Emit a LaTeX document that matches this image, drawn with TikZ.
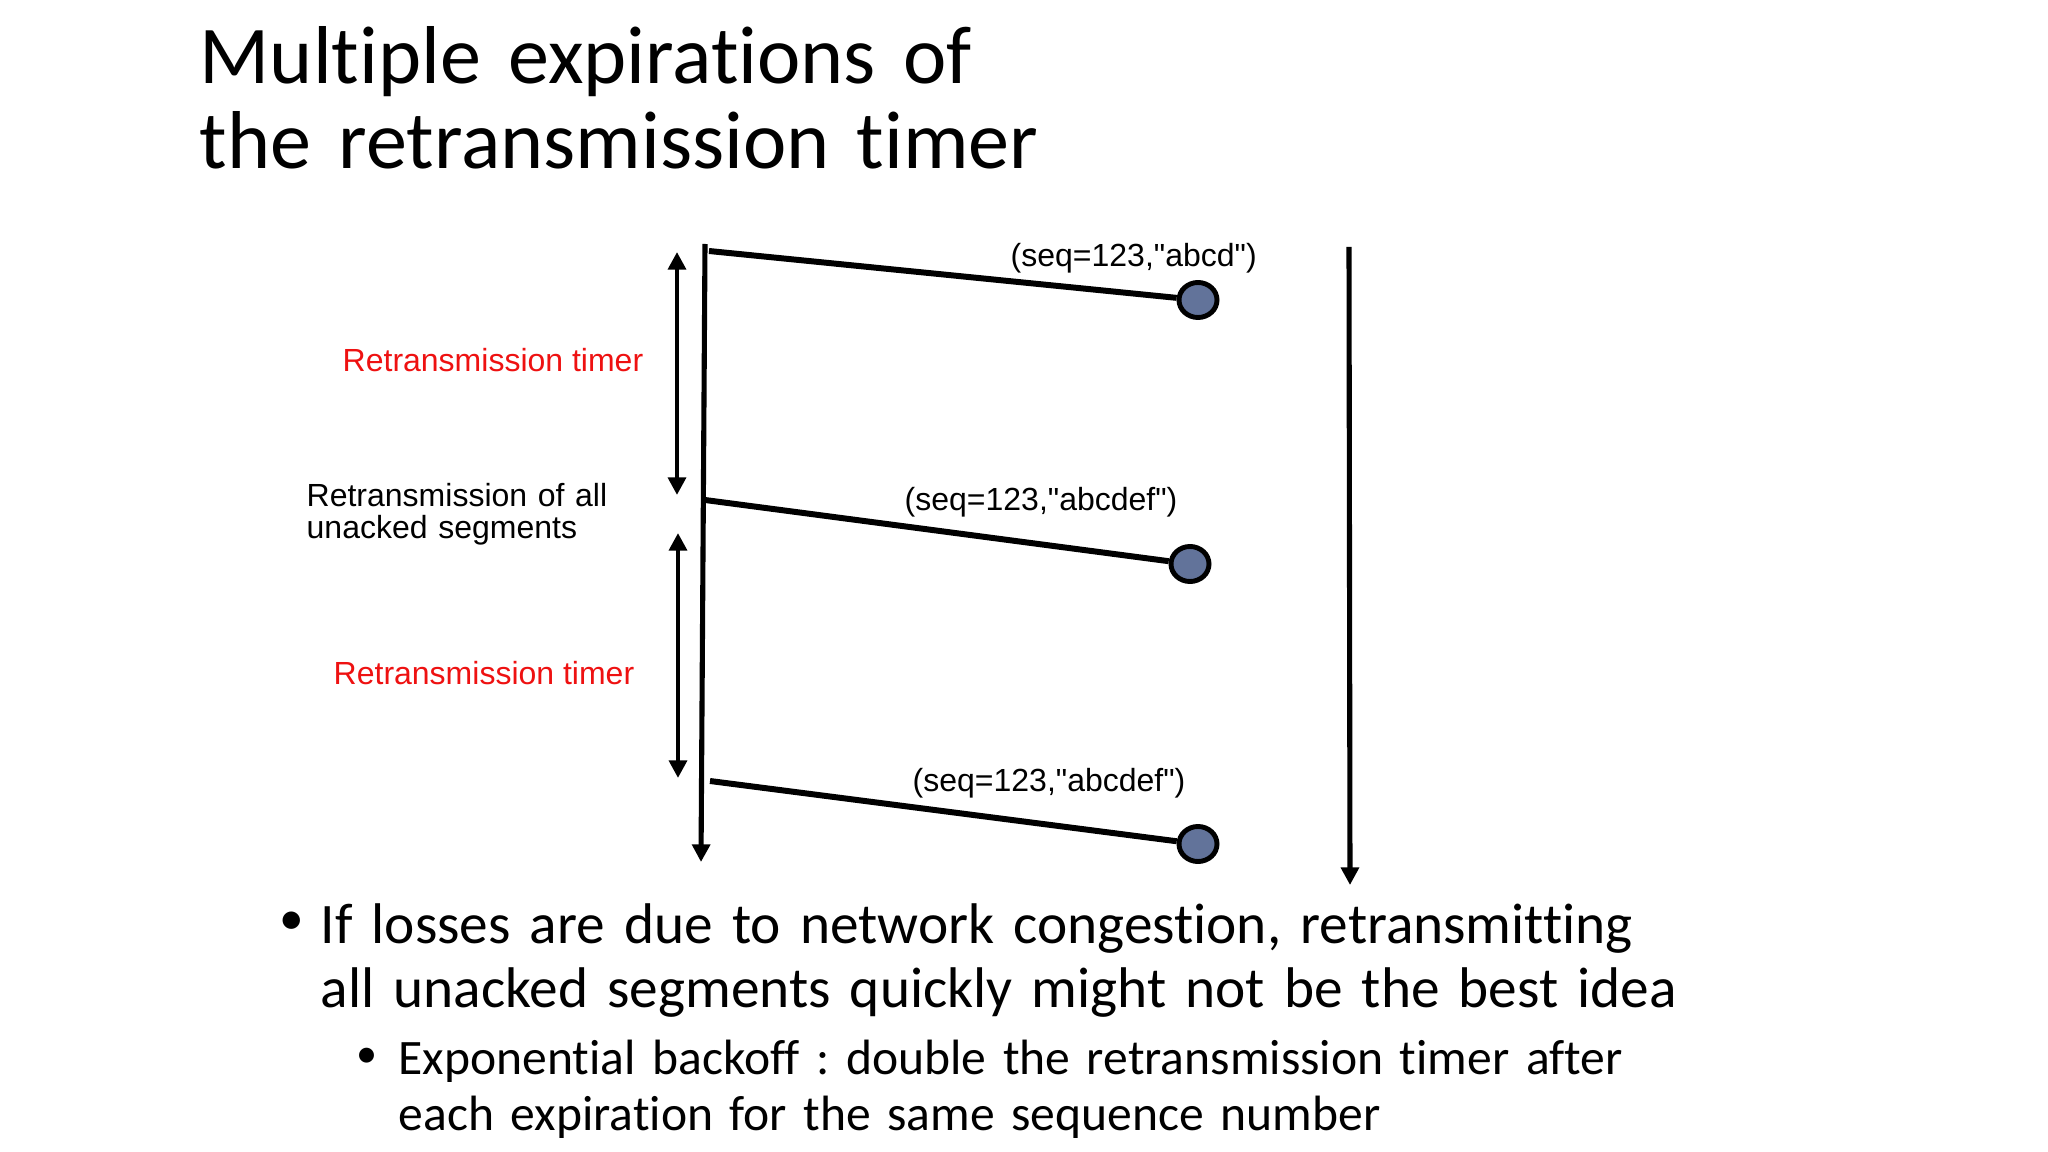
\documentclass[tikz,border=0pt]{standalone}
\usepackage{fontspec}
\setmainfont{Carlito}[Ligatures=NoCommon]
\newfontfamily\arialfont{Liberation Sans}
\usetikzlibrary{arrows.meta,positioning,shapes.geometric}
\definecolor{timerred}{HTML}{EE1111}
\definecolor{slate}{HTML}{62739A}
\frenchspacing

\begin{document}
\begin{tikzpicture}[x=0.01cm,y=-0.01cm,
    lbl/.style={font=\arialfont\fontsize{9.1}{9.1}\selectfont,inner sep=0pt,anchor=base west},
    life/.style={line width=1.45pt,-{Triangle[length=5pt,width=5pt]}},
    timer/.style={line width=1.3pt,{Triangle[length=5pt,width=5pt]}-{Triangle[length=5pt,width=5pt]}},
    seg/.style={line width=1.7pt},
    lost/.style={ellipse,draw=black,line width=1.4pt,fill=slate,
                 minimum width=0.38cm,minimum height=0.35cm,inner sep=0pt},
    bullet/.style={inner sep=0pt,anchor=center}]
  \useasboundingbox (0,0) rectangle (2048,1152);

  \node[anchor=base west,inner sep=0pt,text width=14cm,align=left,
        font=\fontsize{23.35}{23.9}\selectfont] (title) at (199,84)
    {Multiple expirations of\\the retransmission timer};

  \coordinate (cliTop) at (705,244);
  \coordinate (cliEnd) at (701,862);
  \coordinate (srvTop) at (1349,247);
  \coordinate (srvEnd) at (1350,885);
  \draw[life] (cliTop) -- (cliEnd);
  \draw[life] (srvTop) -- (srvEnd);

  \coordinate (s1) at (709,251);
  \coordinate (s2) at (705,500);
  \coordinate (s3) at (710,781);
  \node[lost] (m1) at (1198,300) {};
  \node[lost] (m2) at (1190,564) {};
  \node[lost] (m3) at (1198,844) {};
  \draw[seg] (s1) -- (m1);
  \draw[seg] (s2) -- (m2);
  \draw[seg] (s3) -- (m3);

  \node[lbl] (seq1) at (1010,267) {(seq=123,"abcd")};
  \node[lbl] (seq2) at (904,511) {(seq=123,"abcdef")};
  \node[lbl] (seq3) at (912,791) {(seq=123,"abcdef")};

  \coordinate (t1a) at (677,252);
  \coordinate (t1b) at (677,495);
  \coordinate (t2a) at (678,533);
  \coordinate (t2b) at (678,778);
  \draw[timer] (t1a) -- (t1b);
  \draw[timer] (t2a) -- (t2b);

  \node[lbl,text=timerred] (rto1) at (342,372) {Retransmission timer};
  \node[lbl,text=timerred] (rto2) at (333,684) {Retransmission timer};
  \node[lbl,text width=4cm,align=left] (retx) at (306,507)
    {Retransmission of all\\unacked segments};

  \node[bullet,font=\fontsize{14}{14}\selectfont] (dot1) at (292,923) {•};
  \node[anchor=base west,inner sep=0pt,text width=15cm,align=left,
        font=\fontsize{16.3}{18.2}\selectfont] (point1) at (320,943)
    {If losses are due to network congestion, retransmitting\\all unacked segments quickly might not be the best idea};
  \node[bullet,font=\fontsize{12}{12}\selectfont] (dot2) at (367,1058) {•};
  \node[anchor=base west,inner sep=0pt,text width=14cm,align=left,
        font=\fontsize{14.1}{16}\selectfont] (point2) at (398,1074)
    {Exponential backoff : double the retransmission timer after\\each expiration for the same sequence number};
\end{tikzpicture}
\end{document}
